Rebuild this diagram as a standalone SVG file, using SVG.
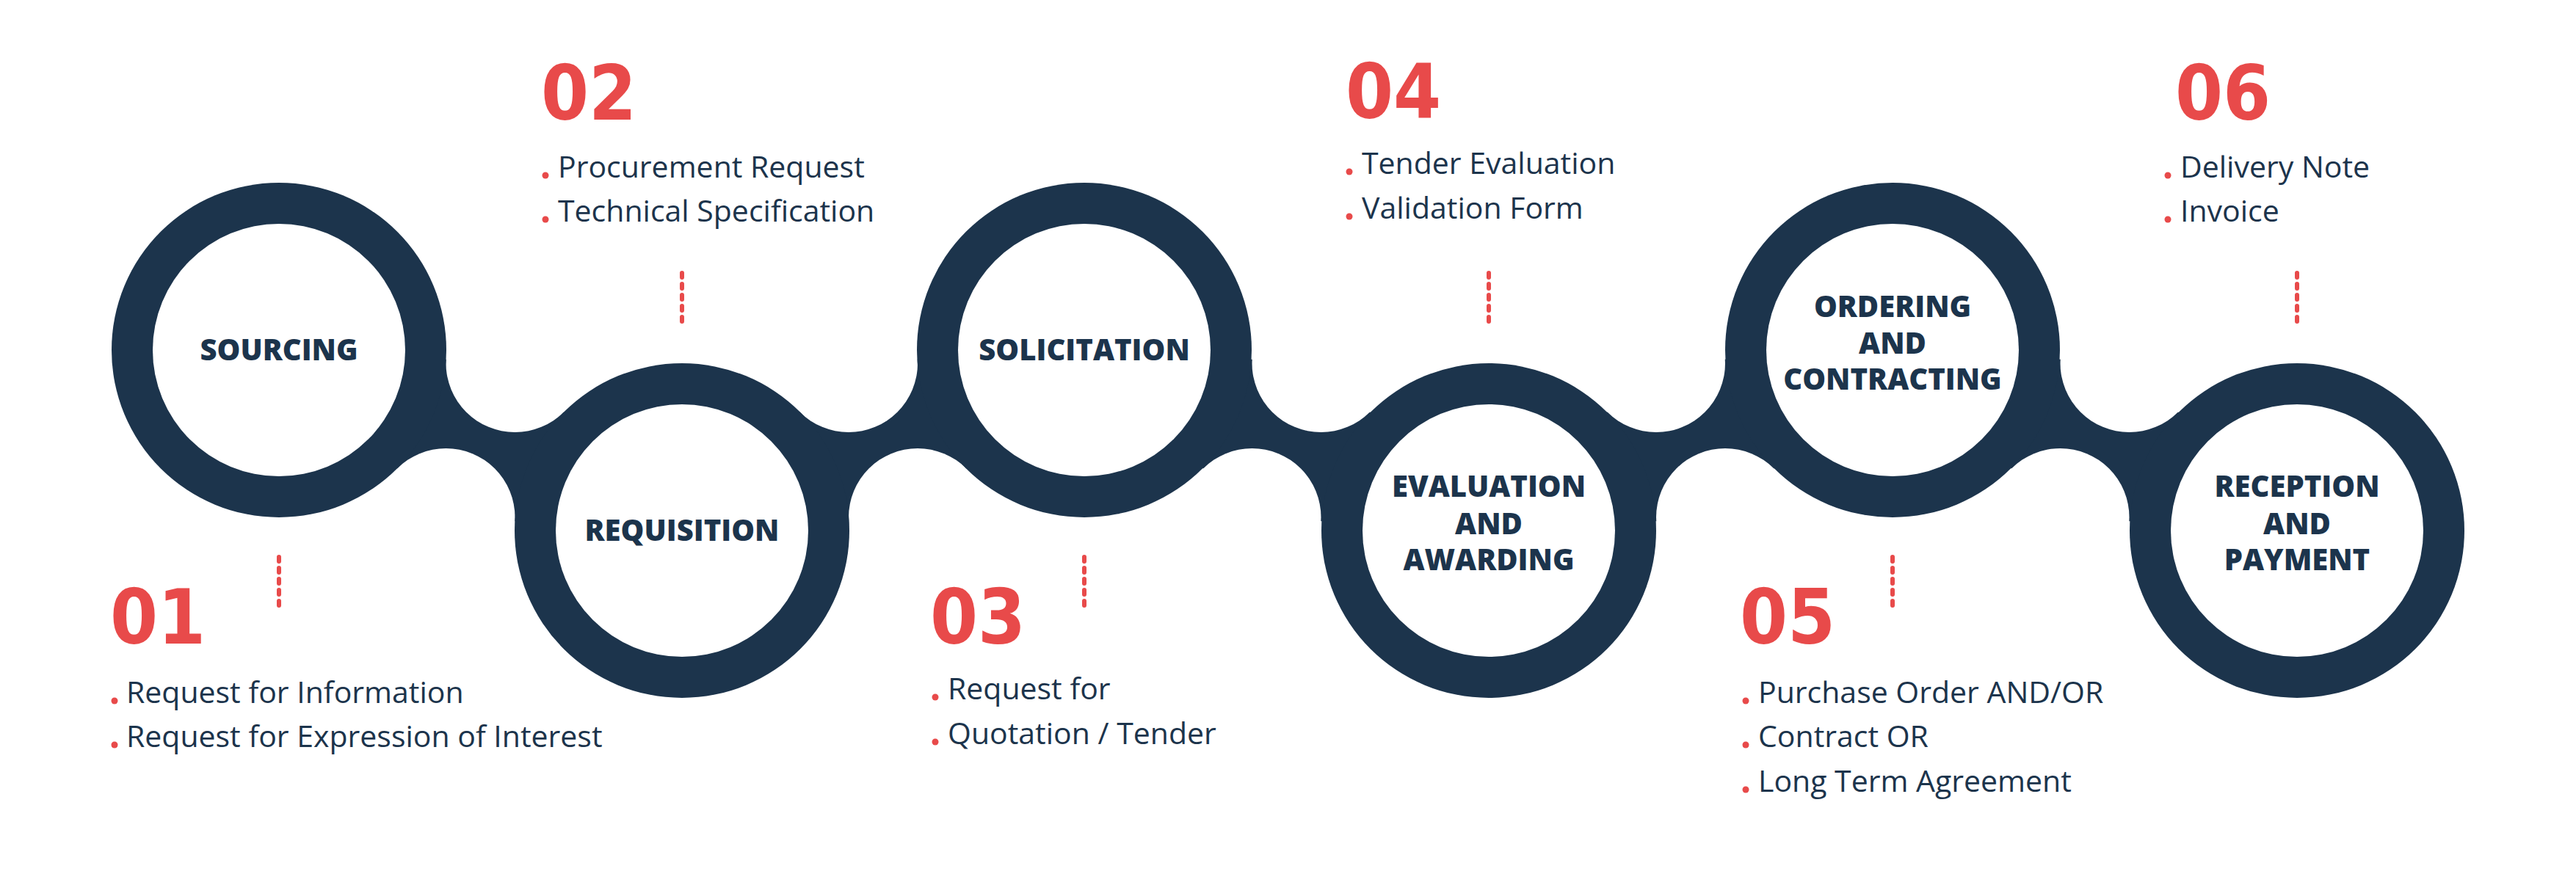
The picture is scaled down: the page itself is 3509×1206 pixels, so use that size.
<svg xmlns="http://www.w3.org/2000/svg" width="3509" height="1206" viewBox="0 0 3509 1206">
<defs><style>
.nv{fill:#1c344c}
.wh{fill:#fff}
.lb{font-family:"Open Sans","Liberation Sans",sans-serif;font-weight:800;font-size:40px;fill:#1c344c;text-anchor:middle}
.num{font-family:"Liberation Sans Narrow","DejaVu Sans Condensed","Liberation Sans",sans-serif;font-weight:bold;font-size:104px;fill:#e84a4a}
.bt{font-family:"Open Sans","Liberation Sans",sans-serif;font-size:41px;fill:#1c344c}
.dot{fill:#e84a4a}
.vd{stroke:#e84a4a;stroke-width:6;stroke-dasharray:6 9;stroke-linecap:round;fill:none}
</style></defs>
<rect width="3509" height="1206" fill="#fff"/>
<g id="connectors">
<polygon class="nv" points="380,477 701.5,495 929,723 607.5,705"/>
<polygon class="nv" points="929,723 1250,705 1477,477 1156,495"/>
<polygon class="nv" points="1477,477 1799.5,495 2028,723 1705.5,705"/>
<polygon class="nv" points="2028,723 2350,705 2578,477 2256,495"/>
<polygon class="nv" points="2578,477 2900.5,495 3129,723 2806.5,705"/>
<g class="wh">
<circle cx="701.5" cy="495" r="94"/><circle cx="607.5" cy="705" r="94"/>
<circle cx="1250" cy="705" r="94"/><circle cx="1156" cy="495" r="94"/>
<circle cx="1799.5" cy="495" r="94"/><circle cx="1705.5" cy="705" r="94"/>
<circle cx="2350" cy="705" r="94"/><circle cx="2256" cy="495" r="94"/>
<circle cx="2900.5" cy="495" r="94"/><circle cx="2806.5" cy="705" r="94"/>
</g>
<path class="vd" d="M929,372V443M380,759V832M1477,759V832M2028,372V443M2578,759V832M3129,372V443"/>
</g>
<g id="n1"><circle class="nv" cx="380" cy="477" r="228"/><circle class="wh" cx="380" cy="477" r="172"/><text class="lb" x="380" y="491">SOURCING</text></g>
<g id="n2"><circle class="nv" cx="929" cy="723" r="228"/><circle class="wh" cx="929" cy="723" r="172"/><text class="lb" x="929" y="737">REQUISITION</text></g>
<g id="n3"><circle class="nv" cx="1477" cy="477" r="228"/><circle class="wh" cx="1477" cy="477" r="172"/><text class="lb" x="1477" y="491">SOLICITATION</text></g>
<g id="n4"><circle class="nv" cx="2028" cy="723" r="228"/><circle class="wh" cx="2028" cy="723" r="172"/><text class="lb" x="2028" y="677">EVALUATION</text><text class="lb" x="2028" y="728">AND</text><text class="lb" x="2028" y="777">AWARDING</text></g>
<g id="n5"><circle class="nv" cx="2578" cy="477" r="228"/><circle class="wh" cx="2578" cy="477" r="172"/><text class="lb" x="2578" y="432">ORDERING</text><text class="lb" x="2578" y="482">AND</text><text class="lb" x="2578" y="531">CONTRACTING</text></g>
<g id="n6"><circle class="nv" cx="3129" cy="723" r="228"/><circle class="wh" cx="3129" cy="723" r="172"/><text class="lb" x="3129" y="677">RECEPTION</text><text class="lb" x="3129" y="728">AND</text><text class="lb" x="3129" y="777">PAYMENT</text></g>
<g id="t1"><text class="num" x="150" y="877">01</text><circle class="dot" cx="156" cy="955" r="4.5"/><text class="bt" x="172" y="958">Request for Information</text><circle class="dot" cx="156" cy="1015" r="4.5"/><text class="bt" x="172" y="1018">Request for Expression of Interest</text></g>
<g id="t2"><text class="num" x="737" y="163">02</text><circle class="dot" cx="743" cy="239" r="4.5"/><text class="bt" x="760" y="242">Procurement Request</text><circle class="dot" cx="743" cy="299" r="4.5"/><text class="bt" x="760" y="302">Technical Specification</text></g>
<g id="t3"><text class="num" x="1267" y="877">03</text><circle class="dot" cx="1274" cy="950" r="4.5"/><text class="bt" x="1291" y="953">Request for</text><circle class="dot" cx="1274" cy="1011" r="4.5"/><text class="bt" x="1291" y="1014">Quotation / Tender</text></g>
<g id="t4"><text class="num" x="1833" y="161">04</text><circle class="dot" cx="1838" cy="234" r="4.5"/><text class="bt" x="1855" y="237">Tender Evaluation</text><circle class="dot" cx="1838" cy="295" r="4.5"/><text class="bt" x="1855" y="298">Validation Form</text></g>
<g id="t5"><text class="num" x="2370" y="877">05</text><circle class="dot" cx="2378" cy="955" r="4.5"/><text class="bt" x="2395" y="958">Purchase Order AND/OR</text><circle class="dot" cx="2378" cy="1015" r="4.5"/><text class="bt" x="2395" y="1018">Contract OR</text><circle class="dot" cx="2378" cy="1076" r="4.5"/><text class="bt" x="2395" y="1079">Long Term Agreement</text></g>
<g id="t6"><text class="num" x="2963" y="163">06</text><circle class="dot" cx="2953" cy="239" r="4.5"/><text class="bt" x="2970" y="242">Delivery Note</text><circle class="dot" cx="2953" cy="299" r="4.5"/><text class="bt" x="2970" y="302">Invoice</text></g>
</svg>
